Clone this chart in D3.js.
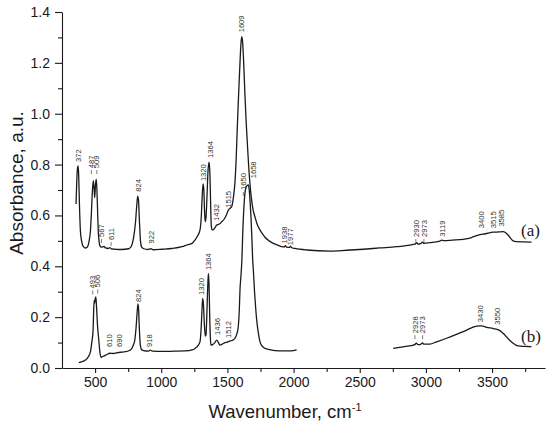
<!DOCTYPE html>
<html><head><meta charset="utf-8">
<script src="https://cdn.jsdelivr.net/npm/d3@7"></script>
<style>
html,body{margin:0;padding:0;background:#fff;}
svg{display:block;font-family:"Liberation Sans",Arial,sans-serif;}
</style></head>
<body>
<svg id="chart" width="550" height="424"></svg>
<script>
// ---- data ----
const xMajorTicks = [500,1000,1500,2000,2500,3000,3500];
const xMinorTicks = [750,1250,1750,2250,2750,3250,3750];
const yMajorTicks = [0,0.2,0.4,0.6,0.8,1.0,1.2,1.4];
const yMinorTicks = [0.1,0.3,0.5,0.7,0.9,1.1,1.3];

// spectrum (a): [wavenumber, absorbance]
const spectrumA = [
[356,0.645],[362,0.74],[368,0.79],[372,0.795],[376,0.76],[382,0.64],[389,0.54],[398,0.50],[410,0.478],[425,0.472],
[440,0.475],[455,0.50],[465,0.54],[473,0.62],[480,0.70],[487,0.737],[493,0.70],[497,0.67],[503,0.72],[509,0.743],
[514,0.70],[520,0.60],[525,0.53],[530,0.50],[537,0.48],[550,0.475],[567,0.478],[580,0.472],[600,0.47],[611,0.473],
[625,0.468],[653,0.467],[700,0.466],[754,0.469],[775,0.48],[790,0.51],[805,0.57],[815,0.64],[822,0.676],[828,0.66],
[835,0.58],[843,0.50],[852,0.475],[868,0.469],[900,0.466],[922,0.469],[940,0.465],[1006,0.467],[1080,0.47],[1157,0.477],
[1200,0.485],[1233,0.49],[1255,0.503],[1275,0.52],[1293,0.543],[1303,0.60],[1310,0.68],[1316,0.724],[1322,0.70],[1327,0.62],
[1332,0.575],[1338,0.59],[1346,0.68],[1354,0.78],[1362,0.81],[1368,0.76],[1373,0.65],[1378,0.56],[1385,0.543],[1395,0.545],
[1410,0.555],[1419,0.562],[1432,0.565],[1445,0.568],[1457,0.575],[1475,0.585],[1495,0.605],[1507,0.621],[1520,0.628],[1532,0.634],
[1545,0.67],[1557,0.73],[1566,0.82],[1575,0.95],[1585,1.08],[1595,1.20],[1603,1.28],[1609,1.303],[1615,1.28],[1623,1.20],
[1632,1.08],[1641,0.975],[1650,0.89],[1660,0.80],[1671,0.72],[1683,0.66],[1695,0.62],[1708,0.595],[1725,0.565],[1746,0.543],
[1765,0.527],[1784,0.514],[1815,0.50],[1847,0.49],[1880,0.483],[1910,0.477],[1930,0.476],[1938,0.481],[1947,0.475],[1970,0.474],
[1977,0.479],[1986,0.473],[2010,0.470],[2100,0.464],[2275,0.46],[2400,0.463],[2527,0.467],[2650,0.472],[2779,0.477],[2850,0.481],
[2905,0.486],[2922,0.488],[2930,0.493],[2940,0.487],[2960,0.489],[2973,0.495],[2985,0.490],[3030,0.493],[3080,0.496],[3105,0.499],
[3119,0.503],[3135,0.501],[3200,0.503],[3282,0.506],[3340,0.512],[3395,0.523],[3450,0.528],[3508,0.534],[3550,0.535],[3584,0.536],
[3600,0.533],[3621,0.523],[3640,0.51],[3659,0.50],[3684,0.497],[3740,0.496],[3798,0.495]
];

// spectrum (b), first segment
const spectrumB1 = [
[377,0.021],[400,0.025],[427,0.031],[450,0.045],[465,0.064],[475,0.10],[485,0.149],[489,0.22],[493,0.265],[497,0.255],
[500,0.27],[506,0.28],[511,0.24],[518,0.17],[528,0.11],[537,0.06],[545,0.042],[555,0.045],[565,0.047],[590,0.053],
[610,0.058],[640,0.057],[660,0.059],[690,0.062],[720,0.063],[767,0.071],[785,0.085],[800,0.11],[810,0.16],[818,0.22],
[824,0.252],[829,0.23],[835,0.15],[842,0.09],[852,0.072],[868,0.068],[900,0.066],[918,0.07],[935,0.066],[1006,0.065],
[1100,0.066],[1180,0.067],[1233,0.071],[1255,0.077],[1280,0.09],[1293,0.104],[1302,0.16],[1308,0.23],[1313,0.274],[1319,0.25],
[1326,0.17],[1333,0.125],[1338,0.13],[1344,0.2],[1350,0.30],[1356,0.372],[1361,0.33],[1366,0.21],[1371,0.12],[1376,0.09],
[1388,0.092],[1405,0.10],[1419,0.11],[1432,0.10],[1444,0.09],[1465,0.095],[1482,0.10],[1500,0.102],[1512,0.105],[1535,0.108],
[1557,0.117],[1572,0.135],[1582,0.162],[1590,0.23],[1595,0.307],[1602,0.36],[1608,0.41],[1618,0.56],[1628,0.66],[1640,0.71],
[1650,0.718],[1658,0.72],[1665,0.70],[1672,0.65],[1678,0.595],[1685,0.51],[1691,0.425],[1696,0.385],[1705,0.30],[1713,0.24],
[1721,0.19],[1733,0.14],[1746,0.104],[1760,0.088],[1784,0.077],[1820,0.072],[1860,0.068],[1920,0.067],[1980,0.067],[2023,0.071]
];
// spectrum (b), second segment
const spectrumB2 = [
[2753,0.077],[2800,0.081],[2860,0.086],[2904,0.09],[2918,0.093],[2928,0.098],[2940,0.092],[2960,0.093],[2973,0.099],[2985,0.094],
[3030,0.094],[3080,0.103],[3156,0.117],[3220,0.13],[3282,0.143],[3340,0.157],[3383,0.165],[3420,0.166],[3459,0.16],[3510,0.155],
[3559,0.147],[3585,0.136],[3609,0.123],[3635,0.108],[3659,0.097],[3680,0.09],[3697,0.087],[3750,0.085],[3798,0.084]
];

// peak annotations: text, wavenumber of label, absorbance of label bottom, leader line
const peaksA = [
{t:"372",x:372,y:0.81},{t:"487",x:472,y:0.786,lead:true},{t:"509",x:513,y:0.786,lead:true},
{t:"567",x:548,y:0.515,lead:true},{t:"611",x:621,y:0.503,lead:true},{t:"824",x:825,y:0.693},
{t:"922",x:925,y:0.49},{t:"1320",x:1318,y:0.735},{t:"1364",x:1369,y:0.826},
{t:"1432",x:1419,y:0.578},{t:"1515",x:1507,y:0.63},{t:"1609",x:1608,y:1.32},
{t:"1650",x:1620,y:0.70,lead:true},{t:"1658",x:1696,y:0.746},{t:"1938",x:1928,y:0.49},
{t:"1977",x:1977,y:0.483},{t:"2930",x:2924,y:0.515,lead:true},{t:"2973",x:2985,y:0.515,lead:true},
{t:"3119",x:3125,y:0.516},{t:"3400",x:3420,y:0.55},{t:"3515",x:3513,y:0.55},{t:"3585",x:3572,y:0.556}
];
const peaksB = [
{t:"493",x:482,y:0.313,lead:true},{t:"506",x:520,y:0.317,lead:true},{t:"610",x:606,y:0.083},
{t:"690",x:684,y:0.083},{t:"824",x:827,y:0.26},{t:"918",x:910,y:0.083},
{t:"1320",x:1306,y:0.287},{t:"1364",x:1358,y:0.385},{t:"1436",x:1425,y:0.13},
{t:"1512",x:1507,y:0.118},{t:"2928",x:2917,y:0.137,lead:true},{t:"2973",x:2975,y:0.137,lead:true},
{t:"3430",x:3415,y:0.18},{t:"3550",x:3539,y:0.17}
];
const seriesLabels = [{t:"(a)",y:0.54},{t:"(b)",y:0.125}];

// ---- chart ----
const svg = d3.select("#chart");
const x = d3.scaleLinear().domain([250,3900]).range([62,545]);
const y = d3.scaleLinear().domain([0,1.4]).range([368,12]);
const ink = "#1a1a1a";

// axes
const gx = svg.append("g").attr("transform","translate(0,368)");
gx.call(d3.axisBottom(x).tickValues(xMajorTicks).tickSize(5).tickSizeOuter(0).tickPadding(4).tickFormat(d3.format("d")));
const gxm = svg.append("g").attr("transform","translate(0,368)");
gxm.call(d3.axisBottom(x).tickValues(xMinorTicks).tickSize(4).tickSizeOuter(0).tickFormat(""));
gxm.select(".domain").remove();

const gy = svg.append("g").attr("transform","translate(62,0)");
gy.call(d3.axisLeft(y).tickValues(yMajorTicks).tickSize(7).tickSizeOuter(0).tickPadding(5).tickFormat(d3.format(".1f")));
const gym = svg.append("g").attr("transform","translate(62,0)");
gym.call(d3.axisLeft(y).tickValues(yMinorTicks).tickSize(4).tickSizeOuter(0).tickFormat(""));
gym.select(".domain").remove();

svg.selectAll(".domain, .tick line").attr("stroke",ink).attr("stroke-width",1.1);
svg.selectAll(".tick text").attr("fill",ink).style("font-size","14px").style("font-family","'Liberation Sans',Arial,sans-serif");

// axis titles
svg.append("text").attr("transform","translate(23,183) rotate(-90)").attr("text-anchor","middle")
  .attr("fill",ink).style("font-size","19px").text("Absorbance, a.u.");
const xt = svg.append("text").attr("x",285).attr("y",418).attr("text-anchor","middle")
  .attr("fill",ink).style("font-size","18.5px");
xt.append("tspan").text("Wavenumber, cm");
xt.append("tspan").attr("dy",-7).style("font-size","11px").text("-1");

// spectra
const line = d3.line().x(d=>x(d[0])).y(d=>y(d[1])).curve(d3.curveMonotoneX);
[spectrumA, spectrumB1, spectrumB2].forEach(s=>{
  svg.append("path").datum(s).attr("d",line).attr("fill","none")
    .attr("stroke",ink).attr("stroke-width",1.3).attr("stroke-linejoin","round");
});

// peak labels
function drawPeaks(arr){
  arr.forEach(p=>{
    const px = x(p.x), py = y(p.y);
    svg.append("text").attr("transform",`translate(${px},${py}) rotate(-90)`)
      .attr("text-anchor","start").attr("dy","0.35em")
      .attr("fill","#333").style("font-size","7.6px").text(p.t);
    if(p.lead){
      svg.append("line").attr("x1",px).attr("x2",px).attr("y1",py+2).attr("y2",py+6)
        .attr("stroke","#444").attr("stroke-width",0.7);
    }
  });
}
drawPeaks(peaksA);
drawPeaks(peaksB);

// series labels
seriesLabels.forEach(s=>{
  svg.append("text").attr("x",521).attr("y",y(s.y)).attr("dy","0.33em")
    .attr("fill",ink).style("font-family","'Liberation Serif','DejaVu Serif',serif").style("font-size","17px").text(s.t);
});
</script>
</body></html>
